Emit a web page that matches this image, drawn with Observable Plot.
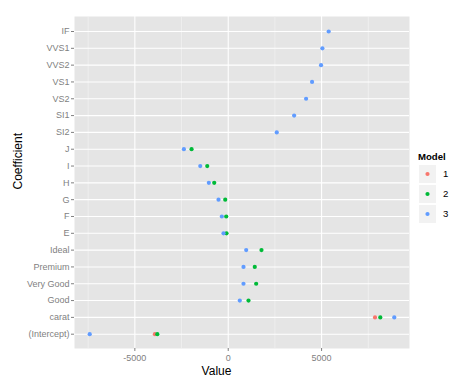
<!DOCTYPE html>
<html><head><meta charset="utf-8">
<script src="https://cdn.jsdelivr.net/npm/d3@7"></script>
<script src="https://cdn.jsdelivr.net/npm/@observablehq/plot@0.6"></script>
<style>
body{margin:0;background:#fff;font-family:"Liberation Sans",Arial,sans-serif}
#wrap{position:relative;width:474px;height:387px}
#legend{position:absolute;left:0;top:0}
</style></head><body><div id="wrap"></div>
<script>
const coefficients = ["IF","VVS1","VVS2","VS1","VS2","SI1","SI2","J","I","H","G","F","E","Ideal","Premium","Very Good","Good","carat","(Intercept)"];
const models = ["1","2","3"];
const colors = ["#F8766D","#00BA38","#619CFF"];
const model1Terms = ["(Intercept)","carat"];
const model1Values = [-3925, 7861];
const model2Terms = ["(Intercept)","carat","Good","Very Good","Premium","Ideal","E","F","G","H","I","J"];
const model2Values = [-3797, 8144, 1086, 1497, 1422, 1781, -91, -107, -160, -749, -1123, -1963];
const model3Terms = ["(Intercept)","carat","Good","Very Good","Premium","Ideal","E","F","G","H","I","J","SI2","SI1","VS2","VS1","VVS2","VVS1","IF"];
const model3Values = [-7417, 8893, 620, 818, 818, 963, -251, -342, -519, -1037, -1497, -2374, 2600, 3530, 4170, 4490, 4972, 5043, 5380];
const xTicks = [-5000, 0, 5000];
const xMinor = [-7500, -2500, 2500, 7500];

const rows = [];
[[model1Terms, model1Values], [model2Terms, model2Values], [model3Terms, model3Values]].forEach(([terms, vals], i) => {
  terms.forEach((t, j) => rows.push({term: t, value: vals[j], model: models[i]}));
});

const chart = Plot.plot({
  width: 474, height: 387,
  marginTop: 16, marginBottom: 39, marginLeft: 74, marginRight: 65,
  style: {fontFamily: '"Liberation Sans", Arial, sans-serif', fontSize: "9px", background: "transparent", overflow: "visible"},
  x: {domain: [-8232, 9708]},
  y: {type: "point", domain: coefficients, range: [31, 333.7], padding: 0, round: false},
  color: {domain: models, range: colors},
  marks: [
    Plot.frame({fill: "#E5E5E5", stroke: "none"}),
    Plot.gridX(xMinor, {stroke: "#F2F2F2", strokeOpacity: 1, strokeWidth: 0.7}),
    Plot.gridX(xTicks, {stroke: "#fff", strokeOpacity: 1, strokeWidth: 1.1}),
    Plot.gridY({stroke: "#fff", strokeOpacity: 1, strokeWidth: 1.1}),
    Plot.axisX({ticks: xTicks, tickSize: 3, tickPadding: 3, fill: "#7F7F7F", stroke: "#7F7F7F", label: null, tickFormat: d => String(d)}),
    Plot.axisY({tickSize: 3, tickPadding: 2, fill: "#7F7F7F", stroke: "#7F7F7F", label: null}),
    Plot.dot(rows, {x: "value", y: "term", fill: "model", r: 2.1, stroke: "none"}),
    Plot.text(["Value"], {text: d => d, frameAnchor: "bottom", dx: -25.5, dy: 23, fontSize: 12, fill: "black", lineAnchor: "middle"}),
    Plot.text(["Coefficient"], {text: d => d, frameAnchor: "left", dx: -56, dy: 7, rotate: -90, fontSize: 12, fill: "black", lineAnchor: "middle"})
  ]
});
const wrap = document.getElementById("wrap");
wrap.appendChild(chart);

// legend
let s = `<svg id="legend" width="474" height="387" style="font-family:'Liberation Sans',Arial,sans-serif">`;
s += `<text x="418" y="160" font-size="9.6" font-weight="bold" fill="#000">Model</text>`;
models.forEach((m, i) => {
  const cy = 174 + i * 20;
  s += `<rect x="418.5" y="${cy - 9.5}" width="18" height="19" fill="#F2F2F2" stroke="#fff" stroke-width="1"/>`;
  s += `<circle cx="427.5" cy="${cy}" r="2.1" fill="${colors[i]}"/>`;
  s += `<text x="443" y="${cy + 3.3}" font-size="9.6" fill="#000">${m}</text>`;
});
s += `</svg>`;
wrap.insertAdjacentHTML("beforeend", s);
</script></body></html>
